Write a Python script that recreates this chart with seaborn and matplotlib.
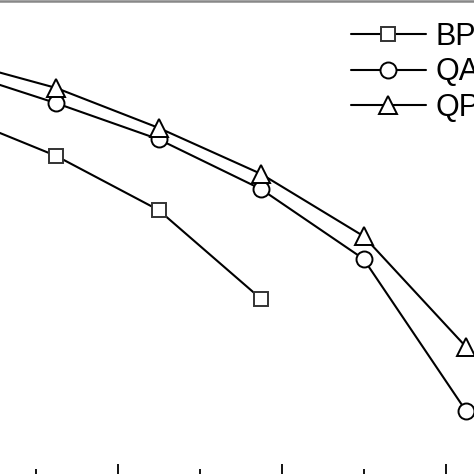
import numpy as np
import pandas as pd
import matplotlib
matplotlib.use("Agg")
import matplotlib.pyplot as plt
from matplotlib.ticker import MultipleLocator, NullFormatter
import seaborn as sns

steps = [0, 5, 10, 15, 20, 25]
bp_vals = [76.2, 67.4, 56.0, 37.3]
qa_vals = [85.5, 78.5, 70.9, 60.4, 45.7, 13.7]
qp_vals = [87.6, 81.7, 73.3, 63.6, 50.5, 27.2]
labels = ["BP", "QA", "QP"]
markers = ["s", "o", "^"]

df = pd.concat([
    pd.DataFrame({"step": steps[:len(bp_vals)], "value": bp_vals, "method": labels[0]}),
    pd.DataFrame({"step": steps, "value": qa_vals, "method": labels[1]}),
    pd.DataFrame({"step": steps, "value": qp_vals, "method": labels[2]}),
])

sns.set_style("ticks")
plt.rcParams["font.family"] = ["Liberation Sans", "DejaVu Sans"]

fig = plt.figure(figsize=(4.74, 4.74), dpi=100)
# the picture is a crop of a bigger plot, so the axes run past the edges
ax = fig.add_axes([0, -2 / 474, 1, 475 / 474])

sizes = {"s": 10.5, "o": 11.5, "^": 13}
for lab, mk in zip(labels, markers):
    sub = df[df["method"] == lab]
    sns.lineplot(data=sub, x="step", y="value", ax=ax, color="black",
                 marker=mk, markersize=sizes[mk], mfc="white",
                 mec="#333333" if mk == "s" else "black", mew=1.4,
                 linewidth=1.5, label=lab)

ax.set_xlim(5 - 56 / 20.5, 5 + 418 / 20.5)
ax.set_ylim(0, 100)
ax.set_xlabel("")
ax.set_ylabel("")

ax.xaxis.set_major_locator(MultipleLocator(8))
ax.xaxis.set_minor_locator(MultipleLocator(4))
ax.xaxis.set_major_formatter(NullFormatter())
ax.set_yticks([])
ax.tick_params(axis="x", which="both", direction="in", top=False, bottom=True,
               width=1.3, color="black")
ax.tick_params(axis="x", which="major", length=9)
ax.tick_params(axis="x", which="minor", length=5)

for side in ["left", "right"]:
    ax.spines[side].set_visible(False)
ax.spines["top"].set_color("#888888")
ax.spines["top"].set_linewidth(1.8)
ax.spines["bottom"].set_linewidth(1.3)

ax.legend(loc="upper left", bbox_to_anchor=(351 / 474, 1 - 22 / 474),
          bbox_transform=fig.transFigure, frameon=False, fontsize=22,
          handlelength=2.45, handletextpad=0.3, labelspacing=0.18,
          borderpad=0, borderaxespad=0, labelcolor="black")

fig.savefig("out.png", dpi=100)
